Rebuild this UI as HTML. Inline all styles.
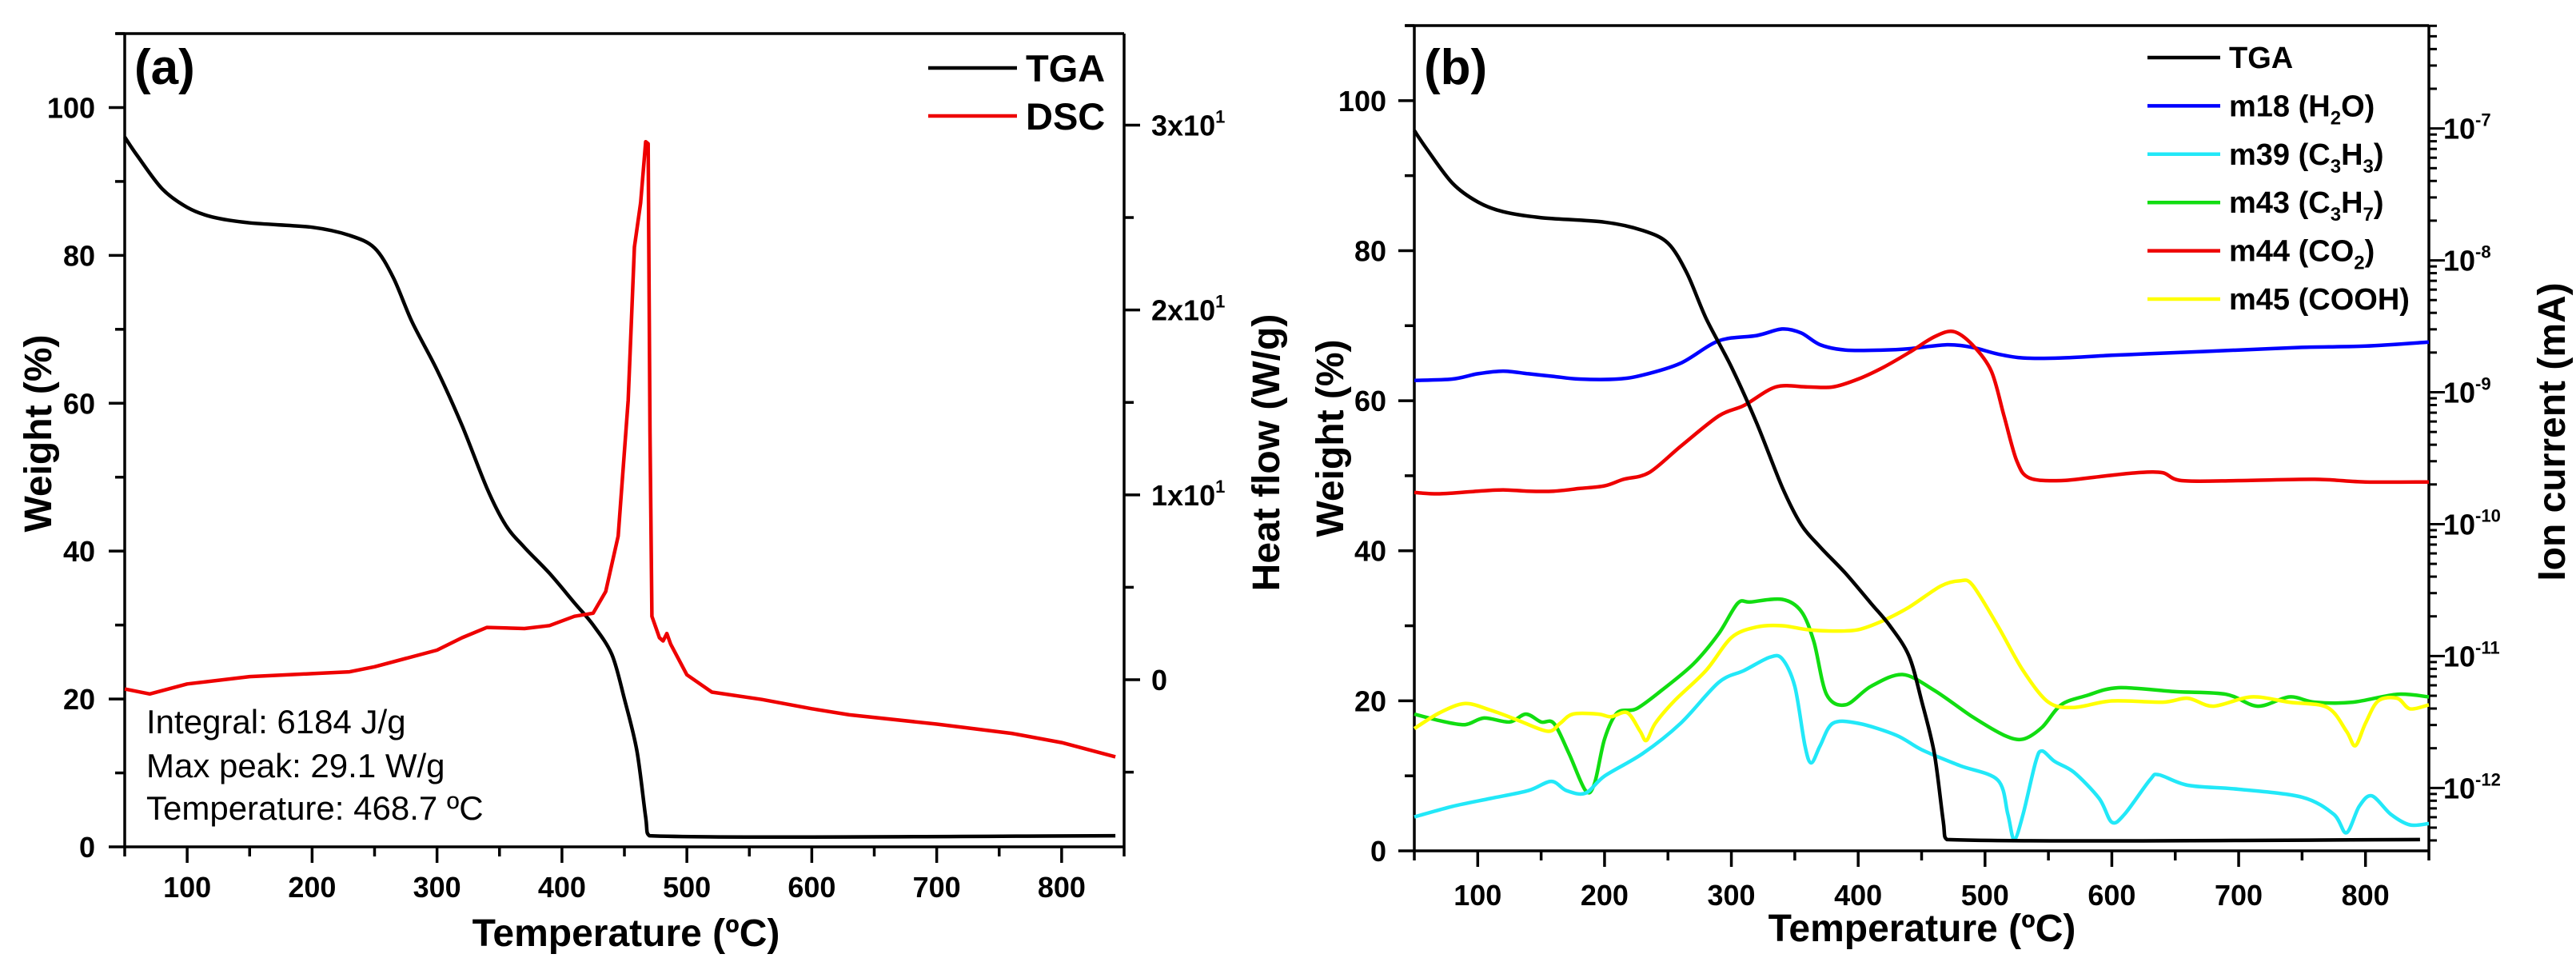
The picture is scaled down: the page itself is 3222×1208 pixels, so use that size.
<!DOCTYPE html>
<html><head><meta charset="utf-8"><style>
html,body{margin:0;padding:0;background:#fff;}
svg{display:block;font-family:"Liberation Sans",Arial,sans-serif;}
</style></head><body>
<svg id="chart" width="3222" height="1208" viewBox="0 0 3222 1208" xmlns="http://www.w3.org/2000/svg"></svg>
<script>
// ---------- shared data ----------
const tgaTemp = [50,60,80,100,120,150,200,230,250,265,280,300,320,340,355,370,390,410,425,440,450,460,467,470,843];
const tgaWeight = [96,93.5,89,86.5,85.2,84.4,83.8,82.7,81,77,71,64.5,57,48.5,43.5,40.5,37,33,30,26,20,13,4,1.5,1.5];
// ---------- panel (a) DSC ----------
const dscTemp = [50,70,100,150,200,230,250,300,320,340,370,390,410,425,435,445,453,458,463,467,469,470.5,472,478,481,484,487,500,520,560,600,630,700,760,800,843];
const dscHeat = [-0.5,-0.77,-0.23,0.17,0.33,0.43,0.7,1.6,2.27,2.83,2.77,2.93,3.43,3.6,4.77,7.77,15.1,23.4,25.8,29.1,29.0,13.4,3.43,2.27,2.1,2.5,1.93,0.27,-0.67,-1.07,-1.57,-1.9,-2.4,-2.9,-3.4,-4.17];
const xTicks = [100,200,300,400,500,600,700,800];
const yTicks = [0,20,40,60,80,100];
const heatTicks = [0,10,20,30];
const heatTickLabels = ["0","1x10","2x10","3x10"];
// ---------- panel (b) ion currents (log10 of mA) ----------
const m18Temp = [50,80,100,120,140,160,180,210,230,260,290,320,340,355,370,390,420,440,470,490,510,530,560,600,650,700,750,800,850];
const m18Log = [-8.91,-8.90,-8.86,-8.84,-8.86,-8.88,-8.90,-8.90,-8.87,-8.78,-8.61,-8.57,-8.52,-8.55,-8.64,-8.68,-8.68,-8.67,-8.64,-8.66,-8.71,-8.74,-8.74,-8.72,-8.70,-8.68,-8.66,-8.65,-8.62];
const m44Temp = [50,70,100,120,140,160,180,200,215,235,260,290,310,335,360,380,400,420,440,460,475,490,505,515,525,535,560,590,620,640,655,700,760,800,850];
const m44Log = [-9.76,-9.77,-9.75,-9.74,-9.75,-9.75,-9.73,-9.71,-9.66,-9.61,-9.41,-9.18,-9.10,-8.96,-8.96,-8.96,-8.90,-8.81,-8.70,-8.58,-8.54,-8.64,-8.84,-9.18,-9.52,-9.65,-9.67,-9.64,-9.61,-9.61,-9.67,-9.67,-9.66,-9.68,-9.68];
const m43Temp = [50,70,90,105,125,138,150,160,172,185,192,200,210,225,245,270,290,305,315,340,355,365,375,390,410,435,460,490,515,530,545,560,580,605,650,690,715,740,760,790,825,850];
const m43Log = [-11.44,-11.49,-11.52,-11.47,-11.50,-11.44,-11.50,-11.51,-11.74,-12.02,-11.97,-11.63,-11.43,-11.40,-11.26,-11.06,-10.83,-10.60,-10.59,-10.57,-10.66,-10.89,-11.29,-11.37,-11.23,-11.14,-11.26,-11.46,-11.60,-11.63,-11.54,-11.37,-11.30,-11.24,-11.27,-11.29,-11.38,-11.31,-11.35,-11.35,-11.29,-11.31];
const m45Temp = [50,70,90,110,130,155,165,175,195,205,218,228,233,240,255,280,300,320,340,360,380,400,420,440,465,480,490,510,530,550,570,600,640,660,680,710,740,770,785,792,800,810,825,835,850];
const m45Log = [-11.55,-11.43,-11.36,-11.41,-11.48,-11.57,-11.51,-11.44,-11.44,-11.46,-11.43,-11.57,-11.64,-11.51,-11.34,-11.11,-10.86,-10.78,-10.77,-10.80,-10.81,-10.80,-10.73,-10.63,-10.47,-10.43,-10.46,-10.77,-11.11,-11.35,-11.39,-11.34,-11.35,-11.32,-11.38,-11.31,-11.35,-11.39,-11.57,-11.68,-11.51,-11.34,-11.32,-11.40,-11.37];
const m39Temp = [50,80,110,140,158,170,185,200,230,260,290,310,330,340,350,358,363,370,380,400,430,450,480,510,518,523,530,540,545,555,570,590,600,610,630,637,660,700,750,775,785,795,805,820,835,850];
const m39Log = [-12.22,-12.14,-12.08,-12.02,-11.95,-12.02,-12.04,-11.91,-11.74,-11.51,-11.20,-11.11,-11.01,-11.02,-11.23,-11.68,-11.81,-11.68,-11.51,-11.51,-11.60,-11.71,-11.83,-11.94,-12.20,-12.39,-12.20,-11.80,-11.72,-11.80,-11.88,-12.08,-12.26,-12.20,-11.94,-11.90,-11.98,-12.01,-12.07,-12.20,-12.34,-12.14,-12.06,-12.20,-12.28,-12.27];
const logDecades = [-12,-11,-10,-9,-8,-7];
const legendB = ["TGA","m18 (H|2|O)","m39 (C|3|H|3|)","m43 (C|3|H|7|)","m44 (CO|2|)","m45 (COOH)"];

const NS="http://www.w3.org/2000/svg";
const svg=document.getElementById('chart');
function mk(tag,attrs,parent){const e=document.createElementNS(NS,tag);for(const k in attrs)e.setAttribute(k,attrs[k]);(parent||svg).appendChild(e);return e;}
function lin(d0,d1,r0,r1){return v=>r0+(v-d0)*(r1-r0)/(d1-d0);}
function pathD(xs,ys,fx,fy){return xs.map((x,i)=>(i?'L':'M')+fx(x).toFixed(1)+','+fy(ys[i]).toFixed(1)).join('');}
function smoothD(xs,ys,fx,fy){
  const P=xs.map((x,i)=>[fx(x),fy(ys[i])]);
  let d='M'+P[0][0].toFixed(1)+','+P[0][1].toFixed(1);
  for(let i=0;i<P.length-1;i++){
    const p0=P[i-1]||P[i],p1=P[i],p2=P[i+1],p3=P[i+2]||P[i+1];
    const t=0.35;
    let c1=[p1[0]+(p2[0]-p0[0])*t/2*0.9,p1[1]+(p2[1]-p0[1])*t/2*0.9];
    let c2=[p2[0]-(p3[0]-p1[0])*t/2*0.9,p2[1]-(p3[1]-p1[1])*t/2*0.9];
    c1[0]=Math.min(Math.max(c1[0],p1[0]),p2[0]);c2[0]=Math.min(Math.max(c2[0],p1[0]),p2[0]);
    d+='C'+c1[0].toFixed(1)+','+c1[1].toFixed(1)+' '+c2[0].toFixed(1)+','+c2[1].toFixed(1)+' '+p2[0].toFixed(1)+','+p2[1].toFixed(1);
  }
  return d;
}

// ===== Panel A =====
const A={l:156,r:1406,t:42,b:1059};
const ax=lin(50,850,A.l,A.r), ay=lin(0,110,A.b,A.t), ayR=lin(-9.04,34.95,A.b,A.t);
const gA=mk('g',{});  
let e;
e=mk('path',{d:`M${A.l},${A.b}H${A.r}M${A.l},${A.b}V${A.t}M${A.l-11},${A.t}H${A.r}M${A.r},${A.t}V${A.b}`,stroke:'#000','stroke-width':3.5,fill:'none'},gA);
 
for(let v=50;v<=850;v+=50){const maj=v%100===0;mk('line',{x1:ax(v),x2:ax(v),y1:A.b,y2:A.b+(maj?20:12),stroke:'#000','stroke-width':3.5},gA);}
xTicks.forEach(v=>{e=mk('text',{x:ax(v),y:1122,'font-size':36,'font-weight':'bold','text-anchor':'middle'},gA);e.textContent=v;
  });
for(let v=0;v<=110;v+=10){const maj=v%20===0;mk('line',{x1:A.l,x2:A.l-(maj?20:12),y1:ay(v),y2:ay(v),stroke:'#000','stroke-width':3.5},gA);}
yTicks.forEach(v=>{e=mk('text',{x:119,y:ay(v)+13,'font-size':36,'font-weight':'bold','text-anchor':'end'},gA);e.textContent=v;
  });
for(let v=-5;v<=30;v+=5){const maj=v%10===0;mk('line',{x1:A.r,x2:A.r+(maj?20:12),y1:ayR(v),y2:ayR(v),stroke:'#000','stroke-width':3.5},gA);}
heatTicks.forEach((v,i)=>{e=mk('text',{x:1440,y:ayR(v)+13,'font-size':36,'font-weight':'bold'},gA);
  
 e.textContent=heatTickLabels[i];
 if(v!==0){const s=mk('tspan',{dy:-16,'font-size':22},e);s.textContent='1';}});
e=mk('path',{d:smoothD(tgaTemp,tgaWeight,ax,ay),stroke:'#000','stroke-width':4.5,fill:'none','stroke-linejoin':'round'},gA);
 
e=mk('path',{d:pathD(dscTemp,dscHeat,ax,ayR),stroke:'#ee0000','stroke-width':4.5,fill:'none','stroke-linejoin':'round'},gA);
 
e=mk('text',{x:168,y:105,'font-size':62,'font-weight':'bold'},gA);e.textContent='(a)';
 
[['TGA','#000',102],['DSC','#ee0000',162]].forEach(([t,c,y])=>{
 e=mk('line',{x1:1161,x2:1272,y1:y-17,y2:y-17,stroke:c,'stroke-width':4.5},gA);
  
 e=mk('text',{x:1283,y:y,'font-size':47,'font-weight':'bold'},gA);e.textContent=t;
  });
[['Integral: 6184 J/g',917],['Max peak: 29.1 W/g',972],['Temperature: 468.7 ºC',1025]].forEach(([t,y],i)=>{
 e=mk('text',{x:183,y:y,'font-size':42},gA);e.textContent=t;
  });
e=mk('text',{x:783,y:1183,'font-size':48,'font-weight':'bold','text-anchor':'middle'},gA);e.textContent='Temperature (ºC)';
 
e=mk('text',{transform:'translate(64,542) rotate(-90)','font-size':48,'font-weight':'bold','text-anchor':'middle'},gA);e.textContent='Weight (%)';
 
e=mk('text',{transform:'translate(1600,566) rotate(-90)','font-size':48,'font-weight':'bold','text-anchor':'middle'},gA);e.textContent='Heat flow (W/g)';
 

// ===== Panel B =====
const B={l:1769,r:3038,t:32,b:1064};
const bx=lin(50,850,B.l,B.r), by=lin(0,110,B.b,B.t), byL=lin(-12.477,-6.22,B.b,B.t);
const gB=mk('g',{});  
e=mk('path',{d:`M${B.l},${B.b}H${B.r}M${B.l},${B.b}V${B.t}M${B.l-11},${B.t}H${B.r}M${B.r},${B.t}V${B.b}`,stroke:'#000','stroke-width':3.5,fill:'none'},gB);
 
for(let v=50;v<=850;v+=50){const maj=v%100===0;mk('line',{x1:bx(v),x2:bx(v),y1:B.b,y2:B.b+(maj?20:12),stroke:'#000','stroke-width':3.5},gB);}
xTicks.forEach(v=>{e=mk('text',{x:bx(v),y:1132,'font-size':36,'font-weight':'bold','text-anchor':'middle'},gB);e.textContent=v;
  });
for(let v=0;v<=110;v+=10){const maj=v%20===0;mk('line',{x1:B.l,x2:B.l-(maj?20:12),y1:by(v),y2:by(v),stroke:'#000','stroke-width':3.5},gB);}
yTicks.forEach(v=>{e=mk('text',{x:1734,y:by(v)+13,'font-size':36,'font-weight':'bold','text-anchor':'end'},gB);e.textContent=v;
  });
for(let d=-13;d<=-7;d++){for(let m=1;m<=9;m++){const lv=d+Math.log10(m);if(lv<-12.477||lv>-6.22)continue;
 mk('line',{x1:B.r,x2:B.r+(m===1?20:10),y1:byL(lv),y2:byL(lv),stroke:'#000','stroke-width':3},gB);}}
logDecades.forEach(d=>{e=mk('text',{x:3056,y:byL(d)+13,'font-size':36,'font-weight':'bold'},gB);
  
 e.textContent='10';const s=mk('tspan',{dy:-16,'font-size':22},e);s.textContent=String(d);});
const seriesB=[[m18Temp,m18Log,'#0000ff','m18-curve'],[m44Temp,m44Log,'#ee0000','m44-curve'],[m43Temp,m43Log,'#11dd11','m43-curve'],[m45Temp,m45Log,'#ffff00','m45-curve'],[m39Temp,m39Log,'#22e8f8','m39-curve']];
seriesB.forEach(([xs,ys,c,n])=>{e=mk('path',{d:smoothD(xs,ys,bx,byL),stroke:c,'stroke-width':4.5,fill:'none','stroke-linejoin':'round'},gB);
  });
e=mk('path',{d:smoothD(tgaTemp,tgaWeight,bx,by),stroke:'#000','stroke-width':4.5,fill:'none','stroke-linejoin':'round'},gB);
 
e=mk('text',{x:1781,y:105,'font-size':62,'font-weight':'bold'},gB);e.textContent='(b)';
 
const legCols=['#000','#0000ff','#22e8f8','#11dd11','#ee0000','#ffff00'];
legendB.forEach((lab,i)=>{const y=85+i*60.4;
 e=mk('line',{x1:2686,x2:2777,y1:y-13,y2:y-13,stroke:legCols[i],'stroke-width':4.5},gB);
  
 e=mk('text',{x:2788,y:y,'font-size':38,'font-weight':'bold'},gB);
  
 lab.split('|').forEach((p,j)=>{if(!p)return;const s=mk('tspan',j%2?{dy:10,'font-size':24}:{dy:(j>0?-10:0)},e);s.textContent=p;});});
e=mk('text',{x:2404,y:1177,'font-size':48,'font-weight':'bold','text-anchor':'middle'},gB);e.textContent='Temperature (ºC)';
 
e=mk('text',{transform:'translate(1680,548) rotate(-90)','font-size':48,'font-weight':'bold','text-anchor':'middle'},gB);e.textContent='Weight (%)';
 
e=mk('text',{transform:'translate(3208,540) rotate(-90)','font-size':48,'font-weight':'bold','text-anchor':'middle'},gB);e.textContent='Ion current (mA)';
 
</script>
</body></html>
